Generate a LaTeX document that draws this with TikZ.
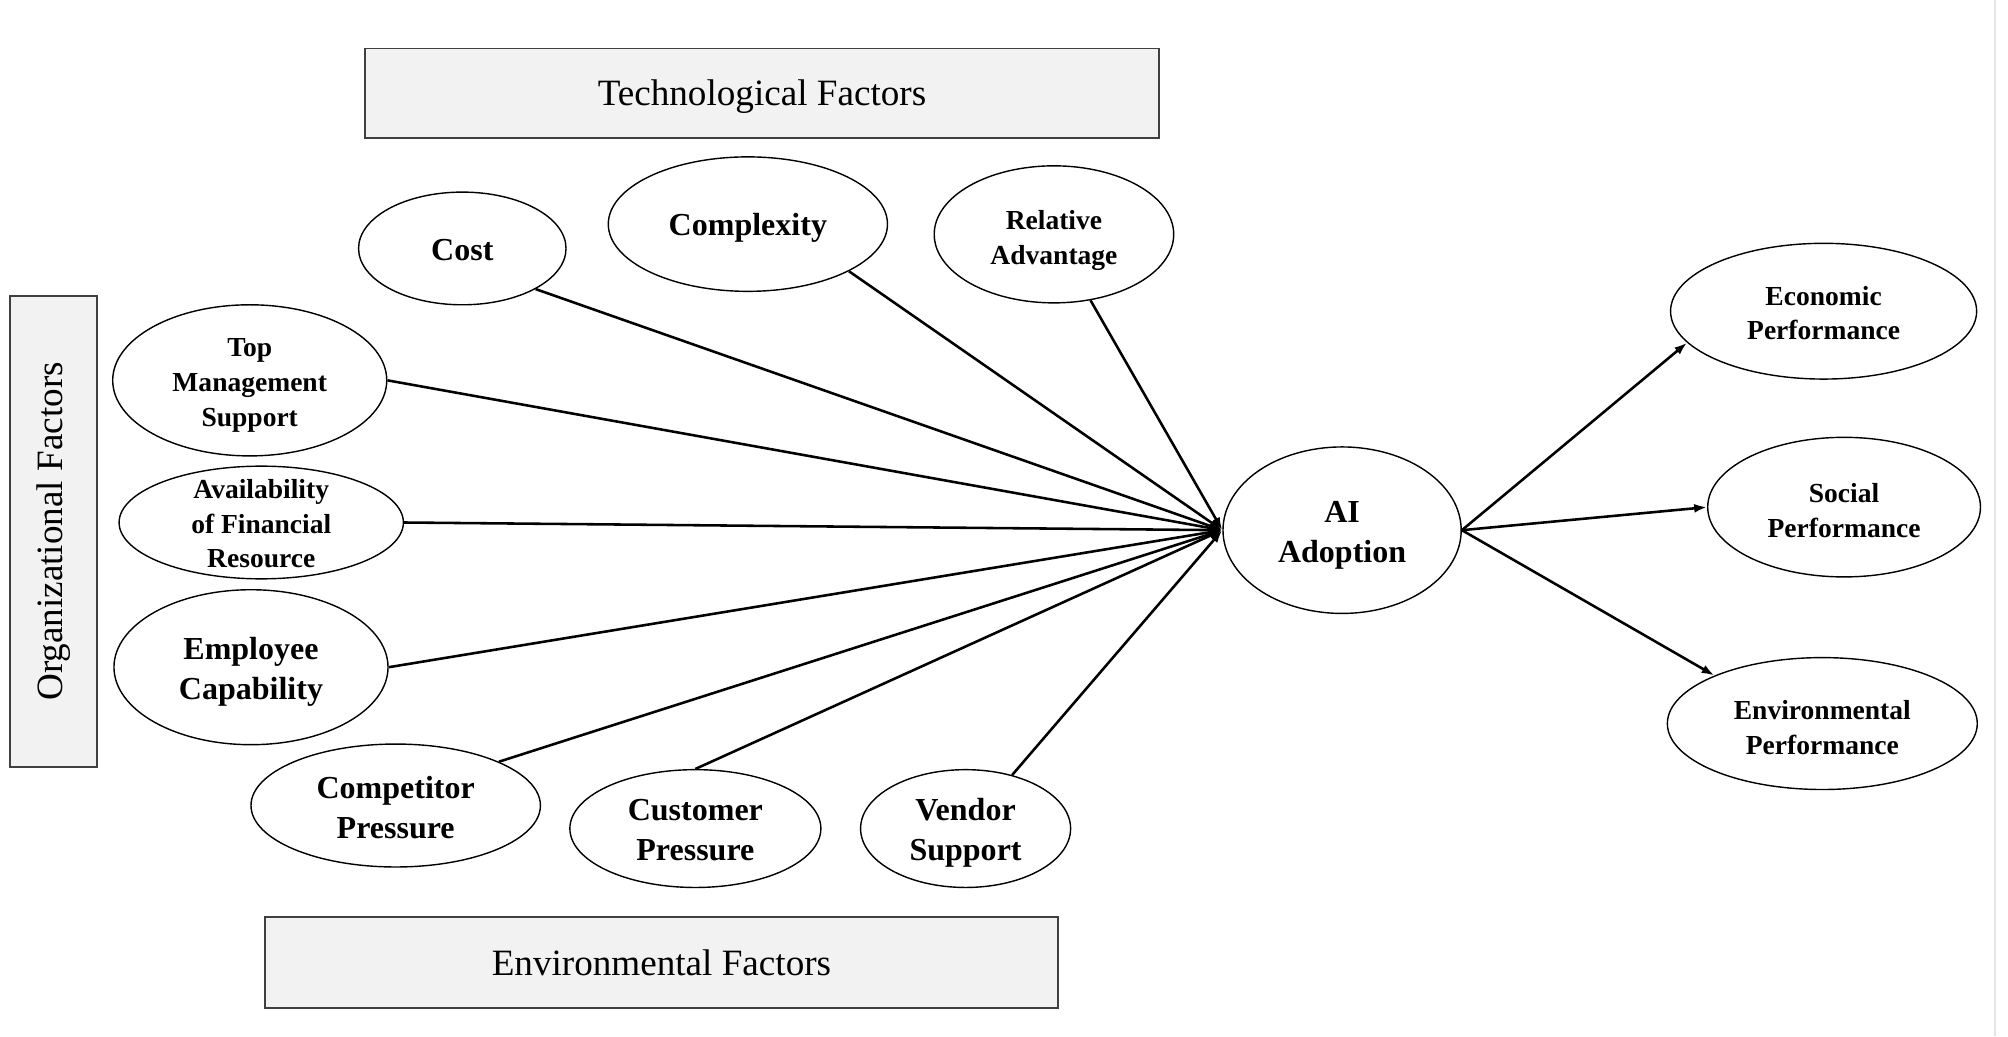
\documentclass[tikz,border=0pt]{standalone}
\usepackage{fontspec}
\setmainfont{Liberation Serif}
\usetikzlibrary{arrows.meta,shapes.geometric}
\definecolor{boxfill}{HTML}{F2F2F2}
\definecolor{boxline}{HTML}{404040}
\begin{document}
\begin{tikzpicture}[x=1pt,y=-1pt,
  factorbox/.style={draw=boxline, fill=boxfill, line width=1.3pt, inner sep=0pt,
    font=\fontsize{29}{34}\selectfont},
  oval/.style={draw, ellipse, line width=1.1pt, inner sep=0pt},
  bigtxt/.style={font=\fontsize{25}{31}\selectfont\bfseries, align=center, inner sep=0pt},
  smalltxt/.style={font=\fontsize{21.5}{27}\selectfont\bfseries, align=center, inner sep=0pt},
  link/.style={line width=2pt, -{Latex[length=10pt,width=7pt]}}]
\useasboundingbox (0,0) rectangle (1568,809);
\fill[white] (0,0) rectangle (1568,809);
\draw[gray!20, line width=1.5pt] (1558,0) -- (1558,809);

% category boxes
\node[factorbox, minimum width=620pt, minimum height=70pt] (tech) at (595,73) {};
\node[font=\fontsize{29}{34}\selectfont, inner sep=0pt] (techT) at (595,75.5) {Technological Factors};
\node[factorbox, minimum width=368pt, minimum height=68pt, rotate=90] (org) at (42,415) {Organizational Factors};
\node[factorbox, minimum width=619pt, minimum height=71pt] (envf) at (516.5,751.5) {Environmental Factors};

% ellipses
\node[oval, minimum width=162pt, minimum height=88pt] (cost) at (361,194) {};
\node[bigtxt, yshift=-1pt] (costT) at (cost) {Cost};
\node[oval, minimum width=218pt, minimum height=105pt] (cplx) at (584,175) {};
\node[bigtxt, yshift=-3pt] (cplxT) at (cplx) {Complexity};
\node[oval, minimum width=187pt, minimum height=107pt] (rel) at (823,183) {};
\node[smalltxt, yshift=-5pt] (relT) at (rel) {Relative\\Advantage};
\node[oval, minimum width=214pt, minimum height=118pt] (top) at (195,297) {};
\node[smalltxt, yshift=-4pt] (topT) at (top) {Top\\Management\\Support};
\node[oval, minimum width=222pt, minimum height=88pt] (avail) at (204,408) {};
\node[smalltxt, yshift=-1pt] (availT) at (avail) {Availability\\of Financial\\Resource};
\node[oval, minimum width=214pt, minimum height=121pt] (emp) at (196,521) {};
\node[bigtxt, yshift=-3.5pt] (empT) at (emp) {Employee\\Capability};
\node[oval, minimum width=226pt, minimum height=96pt] (comp) at (309,629) {};
\node[bigtxt, yshift=-1.5pt] (compT) at (comp) {Competitor\\Pressure};
\node[oval, minimum width=196pt, minimum height=92pt] (cust) at (543,647) {};
\node[bigtxt, yshift=-1pt] (custT) at (cust) {Customer\\Pressure};
\node[oval, minimum width=164pt, minimum height=92pt] (vend) at (754,647) {};
\node[bigtxt, yshift=-3.5pt] (vendT) at (vend) {Vendor\\Support};
\node[oval, minimum width=186pt, minimum height=130pt] (ai) at (1048,414) {};
\node[bigtxt, yshift=-4pt] (aiT) at (ai) {AI\\Adoption};
\node[oval, minimum width=239pt, minimum height=106pt] (econ) at (1424,243) {};
\node[smalltxt, yshift=-1.5pt] (econT) at (econ) {Economic\\Performance};
\node[oval, minimum width=213pt, minimum height=109pt] (soc) at (1440,396) {};
\node[smalltxt, yshift=-2.5pt] (socT) at (soc) {Social\\Performance};
\node[oval, minimum width=242pt, minimum height=103pt] (envp) at (1423,565) {};
\node[smalltxt, yshift=-3pt] (envpT) at (envp) {Environmental\\Performance};

% inputs
\draw[link] (cost.-29) -- (ai.west);
\draw[link] (cplx.-25) -- (ai.west);
\draw[link] (rel.-61) -- (ai.west);
\draw[link] (top.east) -- (ai.west);
\draw[link] (avail.east) -- (ai.west);
\draw[link] (emp.east) -- (ai.west);
\draw[link] (comp.23) -- (ai.west);
\draw[link] (cust.north) -- (ai.west);
\draw[link] (vend.49) -- (ai.west);

% outputs
\draw[link] (ai.east) -- (econ.193);
\draw[link] (ai.east) -- (soc.west);
\draw[link] (ai.east) -- (envp.156);
\end{tikzpicture}
\end{document}
